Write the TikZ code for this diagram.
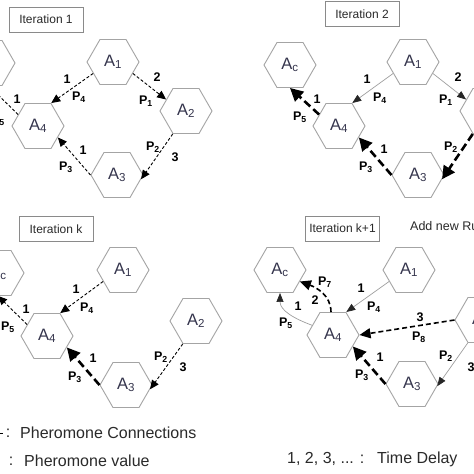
\documentclass[tikz,border=0pt]{standalone}
\usepackage{fontspec}
\setmainfont{Liberation Sans}
\usetikzlibrary{shapes.geometric,arrows.meta}
\definecolor{hexline}{HTML}{A4A4A4}
\definecolor{hextext}{HTML}{35354D}
\definecolor{boxline}{HTML}{8A8A8A}
\definecolor{txt}{HTML}{2A2A2A}
\newcommand{\Pv}[1]{\textbf{P}\textsubscript{\textbf{#1}}}
\newcommand{\An}[1]{A\textsubscript{#1}}
\tikzset{
  hexnode/.style={regular polygon, regular polygon sides=6, minimum size=52pt, inner sep=0pt,
    draw=hexline, line width=0.9pt, fill=white, text=hextext, font=\fontsize{16.5}{18}\selectfont},
  itbox/.style={draw=boxline, line width=0.9pt, text=txt, font=\fontsize{12}{14}\selectfont,
    minimum width=74pt, minimum height=25pt, inner sep=0pt},
  lbl/.style={inner sep=0pt, text=black, font=\fontsize{12.5}{14}\bfseries\selectfont},
  legend/.style={inner sep=0pt, text=txt, font=\fontsize{16}{18}\selectfont},
  tdash/.style={draw=black, line width=0.9pt, dash pattern=on 3pt off 2pt,
    -{Triangle[length=9pt,width=8pt]}},
  mdash/.style={draw=black, line width=1.6pt, dash pattern=on 5pt off 3pt,
    -{Triangle[length=11pt,width=10pt]}},
  kdash/.style={draw=black, line width=2.6pt, dash pattern=on 8pt off 4pt,
    -{Triangle[length=13pt,width=13pt]}},
  gsolid/.style={draw=gray!75, line width=0.7pt,
    -{Triangle[length=9pt,width=7pt,color=black!85]}}
}
\begin{document}
\begin{tikzpicture}[x=1pt,y=-1pt]
\useasboundingbox (0,0) rectangle (474,474);
\clip (0,0) rectangle (474,474);
\fill[white] (0,0) rectangle (474,474);

% ---------------- Panel 1: Iteration 1 ----------------
\node[itbox] (it1) at (46,19.5) {Iteration 1};
\node[hexnode] (ac1) at (-11,63) {\An{c}};
\node[hexnode] (a1) at (113,62) {\An{1}};
\node[hexnode] (a2) at (186,111) {\An{2}};
\node[hexnode] (a3) at (117,175) {\An{3}};
\node[hexnode] (a4) at (38,126) {\An{4}};
\draw[tdash] (a1.210) -- (a4.60);
\draw[tdash] (a1.-30) -- (a2.150);
\draw[tdash] (a2.-120) -- (a3.-10);
\draw[tdash] (a3.180) -- (a4.-30);
\draw[tdash] (a4.150) -- (ac1.-90);
\node[lbl] (a1t4) at (67,79) {1};
\node[lbl] (a1p4) at (79,97) {\Pv{4}};
\node[lbl] (a1t1) at (157,77) {2};
\node[lbl] (a1p1) at (146,101) {\Pv{1}};
\node[lbl] (a1p2) at (153,147) {\Pv{2}};
\node[lbl] (a1t2) at (175,157) {3};
\node[lbl] (a1t3) at (83,150) {1};
\node[lbl] (a1p3) at (66,167) {\Pv{3}};
\node[lbl] (a1t5) at (17,99) {1};
\node[lbl] (a1p5) at (-2,120) {\Pv{5}};

% ---------------- Panel 2: Iteration 2 ----------------
\node[itbox] (it2) at (362,14) {Iteration 2};
\node[hexnode] (bc) at (290,65) {\An{c}};
\node[hexnode] (b1) at (413,62) {\An{1}};
\node[hexnode] (b2) at (486,111) {\An{2}};
\node[hexnode] (b3) at (418,175) {\An{3}};
\node[hexnode] (b4) at (339,126) {\An{4}};
\draw[gsolid] (b1.210) -- (b4.60);
\draw[gsolid] (b1.-30) -- (b2.150);
\draw[kdash] (b4.150) -- (bc.-90);
\draw[kdash] (b3.180) -- (b4.-30);
\draw[kdash] (b2.-120) -- (b3.-10);
\node[lbl] (b1t4) at (367,79) {1};
\node[lbl] (b1p4) at (380,98) {\Pv{4}};
\node[lbl] (b1t1) at (458,77) {2};
\node[lbl] (b1p1) at (446,100) {\Pv{1}};
\node[lbl] (b1t5) at (317,99) {1};
\node[lbl] (b1p5) at (300,117) {\Pv{5}};
\node[lbl] (b1t3) at (384,149) {1};
\node[lbl] (b1p3) at (366,167) {\Pv{3}};
\node[lbl] (b1p2) at (451,147) {\Pv{2}};

% ---------------- Panel 3: Iteration k ----------------
\node[itbox] (itk) at (56,229) {Iteration k};
\node[hexnode] (cc) at (-2,273) {\An{c}};
\node[hexnode] (c1) at (123,270) {\An{1}};
\node[hexnode] (c2) at (196,321) {\An{2}};
\node[hexnode] (c3) at (126,385) {\An{3}};
\node[hexnode] (c4) at (47,336) {\An{4}};
\draw[tdash] (c1.210) -- (c4.60);
\draw[tdash] (c4.150) -- (cc.-90);
\draw[kdash] (c3.180) -- (c4.-30);
\draw[tdash] (c2.-120) -- (c3.-10);
\node[lbl] (c1t4) at (76,289) {1};
\node[lbl] (c1p4) at (87,308) {\Pv{4}};
\node[lbl] (c1t5) at (26,309) {1};
\node[lbl] (c1p5) at (8,327) {\Pv{5}};
\node[lbl] (c1t3) at (93,358) {1};
\node[lbl] (c1p3) at (75,377) {\Pv{3}};
\node[lbl] (c1p2) at (161,357) {\Pv{2}};
\node[lbl] (c1t2) at (183,367) {3};

% ---------------- Panel 4: Iteration k+1 ----------------
\node[itbox] (itk1) at (342.5,228.5) {Iteration k+1};
\node[legend, anchor=west, font=\fontsize{12.5}{14}\selectfont] (addrule) at (410,226) {Add new Rule};
\node[hexnode] (dc) at (280,270) {\An{c}};
\node[hexnode] (d1) at (409,270) {\An{1}};
\node[hexnode] (d2) at (481,320) {\An{2}};
\node[hexnode] (d3) at (412,384) {\An{3}};
\node[hexnode] (d4) at (333,335) {\An{4}};
\draw[gsolid] (d1.210) -- (d4.60);
\draw[gsolid] (d4.155) to[out=160,in=-90] (dc.-90);
\draw[mdash] (d4.95) to[out=90,in=-20] (dc.-30);
\draw[mdash] (d2.180) -- (d4.0);
\draw[kdash] (d3.180) -- (d4.-30);
\draw[gsolid] (d2.-120) -- (d3.-5);
\node[lbl] (d1t4) at (361,288) {1};
\node[lbl] (d1p4) at (374,307) {\Pv{4}};
\node[lbl] (d1t5) at (298,306) {1};
\node[lbl] (d1p5) at (286,323) {\Pv{5}};
\node[lbl] (d1t7) at (315,300) {2};
\node[lbl] (d1p7) at (325,282) {\Pv{7}};
\node[lbl] (d1t8) at (420,317) {3};
\node[lbl] (d1p8) at (419,337) {\Pv{8}};
\node[lbl] (d1t3) at (380,357) {1};
\node[lbl] (d1p3) at (362,375) {\Pv{3}};
\node[lbl] (d1p2) at (446,356) {\Pv{2}};
\node[lbl] (d1t2) at (471,367) {3};

% ---------------- Legend ----------------
\coordinate (lgs) at (-30,433);
\coordinate (lge) at (4,433);
\draw[draw=black, line width=0.9pt, dash pattern=on 3pt off 2pt] (lgs) -- (lge);
\node[legend] (lgc1) at (8,433) {:};
\node[legend, anchor=west] (lgt1) at (20,433) {Pheromone Connections};
\node[legend] (lgc2) at (11,461) {:};
\node[legend, anchor=west] (lgt2) at (24,461) {Pheromone value};
\node[legend, anchor=west] (lgt3) at (287,459) {1, 2, 3, ... :};
\node[legend, anchor=west] (lgt4) at (377,459) {Time Delay};
\end{tikzpicture}
\end{document}
